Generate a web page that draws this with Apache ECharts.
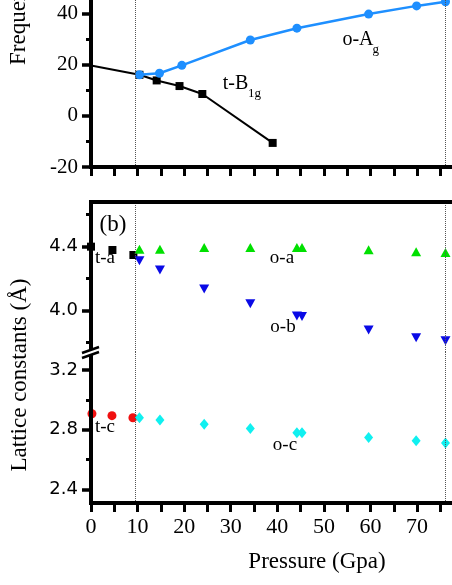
<!DOCTYPE html>
<html><head><meta charset="utf-8">
<script src="https://cdn.jsdelivr.net/npm/echarts@6/dist/echarts.min.js"></script>
<style>html,body{margin:0;padding:0;background:#fff}#c{width:452px;height:585px}</style>
</head><body><div id="c"></div>
<script>
// ---- data (Pressure in GPa) ----
// top panel: phonon frequency
const tB1gX = [0, 10.4, 14.1, 19.0, 23.9, 39.0];
const tB1gY = [19.6, 16.0, 13.8, 11.6, 8.5, -10.6];
const oAgX  = [10.4, 14.7, 19.5, 34.2, 44.2, 59.6, 69.9, 76.1];
const oAgY  = [16.0, 16.6, 19.7, 29.6, 34.2, 39.7, 42.9, 44.5];
// bottom panel: lattice constants
const taX = [0, 4.6, 9.1];
const taY = [4.40, 4.379, 4.348];
const tcX = [0.2, 4.5, 9.0];
const tcY = [2.907, 2.894, 2.880];
const oX  = [10.4, 14.8, 24.3, 34.2, 44.2, 45.3, 59.6, 69.8, 76.1];
const oaY = [4.384, 4.384, 4.394, 4.394, 4.394, 4.394, 4.380, 4.369, 4.363];
const obY = [4.312, 4.254, 4.136, 4.044, 3.967, 3.963, 3.879, 3.831, 3.812];
const ocY = [2.880, 2.865, 2.836, 2.807, 2.780, 2.780, 2.747, 2.725, 2.711];
const transitionX = [9.5, 76.1];
// tick labels
const pressureLabels = [0, 10, 20, 30, 40, 50, 60, 70];
const pressureTicks = [0, 5, 10, 15, 20, 25, 30, 35, 40, 45, 50, 55, 60, 65, 70, 75];
const freqLabels = [-20, 0, 20, 40];
const freqMinor = [-10, 10, 30];
const latUpperLabels = [4.0, 4.4];
const latUpperMinor = [3.8, 4.2, 4.6];
const latLowerLabels = [2.4, 2.8, 3.2];
const latLowerMinor = [2.6, 3.0];

const zip = (xs, ys) => xs.map((x, i) => [x, ys[i]]);
const X_MAX = 77.5;

function yAxes(grid, min, max, major, minor, font, size, fmt) {
  return [{
    type: 'value', gridIndex: grid, min, max, position: 'left', z: 10,
    axisLine: {show: true, onZero: false, lineStyle: {color: '#000', width: 4, cap: 'square'}},
    axisTick: {show: true, length: 9, customValues: major, lineStyle: {color: '#000', width: 3.5}},
    axisLabel: {show: true, customValues: major, margin: 13, fontFamily: font, fontSize: size, color: '#000', formatter: fmt},
    splitLine: {show: false}
  }, {
    type: 'value', gridIndex: grid, min, max, position: 'left', z: 10,
    axisLine: {show: false, onZero: false},
    axisTick: {show: true, length: 5, customValues: minor, lineStyle: {color: '#000', width: 3}},
    axisLabel: {show: false}, splitLine: {show: false}
  }];
}
const markDots = {
  silent: true, symbol: ['none', 'none'], animation: false,
  label: {show: false},
  lineStyle: {type: 'dotted', color: '#555', width: 1},
  data: transitionX.map(v => ({xAxis: v}))
};
const solid = c => ({color: c, opacity: 1});

const chart = echarts.init(document.getElementById('c'), null, {renderer: 'canvas'});
const serif = 'Liberation Serif';
chart.setOption({
  animation: false,
  backgroundColor: '#fff',
  grid: [
    {left: 91, right: 0, top: 0, height: 167},
    {left: 91, right: 0, top: 202, height: 150},
    {left: 91, right: 0, top: 352, height: 151}
  ],
  xAxis: [
    {type: 'value', gridIndex: 0, min: 0, max: X_MAX, position: 'bottom', z: 10,
     axisLine: {onZero: false, lineStyle: {color: '#000', width: 4}},
     axisTick: {show: true, length: 9, customValues: pressureTicks, lineStyle: {color: '#000', width: 3}},
     axisLabel: {show: false}, splitLine: {show: false}},
    {type: 'value', gridIndex: 1, min: 0, max: X_MAX, position: 'top', z: 10,
     axisLine: {onZero: false, lineStyle: {color: '#000', width: 4}},
     axisTick: {show: false}, axisLabel: {show: false}, splitLine: {show: false}},
    {type: 'value', gridIndex: 2, min: 0, max: X_MAX, position: 'bottom', z: 10,
     axisLine: {onZero: false, lineStyle: {color: '#000', width: 4}},
     axisTick: {show: true, length: 9, customValues: pressureTicks, lineStyle: {color: '#000', width: 3}},
     axisLabel: {show: true, customValues: pressureLabels, margin: 13, fontFamily: serif, fontSize: 22, color: '#000'},
     splitLine: {show: false}}
  ],
  yAxis: [
    ...yAxes(0, -20, 45.2, freqLabels, freqMinor, serif, 21, v => String(v)),
    ...yAxes(1, 3.742, 4.679, latUpperLabels, latUpperMinor, 'DejaVu Sans', 18, v => v.toFixed(1)),
    ...yAxes(2, 2.308, 3.321, latLowerLabels, latLowerMinor, 'DejaVu Sans', 18, v => v.toFixed(1))
  ],
  series: [
    {name: 't-B1g', type: 'line', xAxisIndex: 0, yAxisIndex: 0, z: 2,
     data: zip(tB1gX, tB1gY).map((p, i) => i === 0 ? {value: p, symbol: 'none'} : p),
     symbol: 'rect', symbolSize: 8, showAllSymbol: true,
     itemStyle: solid('#000'), lineStyle: {color: '#000', width: 2}},
    {name: 'o-Ag', type: 'line', xAxisIndex: 0, yAxisIndex: 0, z: 3,
     data: zip(oAgX, oAgY), symbol: 'circle', symbolSize: 9, showAllSymbol: true,
     itemStyle: solid('#1E8FFF'), lineStyle: {color: '#1E8FFF', width: 2.5},
     markLine: markDots},
    {name: 't-a', type: 'scatter', xAxisIndex: 1, yAxisIndex: 2,
     data: zip(taX, taY), symbol: 'rect', symbolSize: 8, itemStyle: solid('#000')},
    {name: 'o-a', type: 'scatter', xAxisIndex: 1, yAxisIndex: 2,
     data: zip(oX, oaY), symbol: 'triangle', symbolSize: [10, 9], itemStyle: solid('#00E000'),
     markLine: markDots},
    {name: 'o-b', type: 'scatter', xAxisIndex: 1, yAxisIndex: 2,
     data: zip(oX, obY), symbol: 'triangle', symbolRotate: 180, symbolSize: [10, 9], itemStyle: solid('#0A0AE6')},
    {name: 't-c', type: 'scatter', xAxisIndex: 2, yAxisIndex: 4,
     data: zip(tcX, tcY), symbol: 'circle', symbolSize: 9, itemStyle: solid('#F01010')},
    {name: 'o-c', type: 'scatter', xAxisIndex: 2, yAxisIndex: 4,
     data: zip(oX, ocY), symbol: 'diamond', symbolSize: [9, 11], itemStyle: solid('#10F0F0'),
     markLine: markDots}
  ],
  graphic: [
    // axis break on the lattice-constant axis
    {type: 'polygon', z: 100, shape: {points: [[82, 353], [99, 347], [99, 352], [82, 358]]}, style: {fill: '#fff'}},
    {type: 'line', z: 101, shape: {x1: 82, y1: 353, x2: 99, y2: 347}, style: {stroke: '#000', lineWidth: 2.5}},
    {type: 'line', z: 101, shape: {x1: 82, y1: 358, x2: 99, y2: 352}, style: {stroke: '#000', lineWidth: 2.5}},
    // axis titles
    {type: 'text', x: 19, y: 65, rotation: Math.PI / 2, z: 50,
     style: {text: 'Frequency (cm⁻¹)', fontFamily: serif, fontSize: 23, fill: '#000', align: 'left', verticalAlign: 'middle'}},
    {type: 'text', x: 20, y: 375, rotation: Math.PI / 2, z: 50,
     style: {text: 'Lattice constants (Å)', fontFamily: serif, fontSize: 23, fill: '#000', align: 'center', verticalAlign: 'middle'}},
    {type: 'text', x: 317, y: 562, z: 50,
     style: {text: 'Pressure (Gpa)', fontFamily: serif, fontSize: 23, fill: '#000', align: 'center', verticalAlign: 'middle'}},
    // annotations
    {type: 'text', x: 113, y: 225, z: 50,
     style: {text: '(b)', fontFamily: serif, fontSize: 23, fill: '#000', align: 'center', verticalAlign: 'middle'}},
    {type: 'text', x: 105, y: 258.5, z: 50,
     style: {text: 't-a', fontFamily: serif, fontSize: 19, fill: '#000', align: 'center', verticalAlign: 'middle'}},
    {type: 'text', x: 282, y: 258.5, z: 50,
     style: {text: 'o-a', fontFamily: serif, fontSize: 19, fill: '#000', align: 'center', verticalAlign: 'middle'}},
    {type: 'text', x: 283, y: 327, z: 50,
     style: {text: 'o-b', fontFamily: serif, fontSize: 19, fill: '#000', align: 'center', verticalAlign: 'middle'}},
    {type: 'text', x: 105, y: 427.5, z: 50,
     style: {text: 't-c', fontFamily: serif, fontSize: 19, fill: '#000', align: 'center', verticalAlign: 'middle'}},
    {type: 'text', x: 285, y: 445, z: 50,
     style: {text: 'o-c', fontFamily: serif, fontSize: 19, fill: '#000', align: 'center', verticalAlign: 'middle'}},
    {type: 'text', x: 235.5, y: 84, z: 50,
     style: {text: 't-B', fontFamily: serif, fontSize: 20, fill: '#000', align: 'center', verticalAlign: 'middle'}},
    {type: 'text', x: 248, y: 94, z: 50,
     style: {text: '1g', fontFamily: serif, fontSize: 13, fill: '#000', align: 'left', verticalAlign: 'middle'}},
    {type: 'text', x: 358, y: 40, z: 50,
     style: {text: 'o-A', fontFamily: serif, fontSize: 20, fill: '#000', align: 'center', verticalAlign: 'middle'}},
    {type: 'text', x: 372.5, y: 49.5, z: 50,
     style: {text: 'g', fontFamily: serif, fontSize: 13, fill: '#000', align: 'left', verticalAlign: 'middle'}}
  ]
});
</script></body></html>
